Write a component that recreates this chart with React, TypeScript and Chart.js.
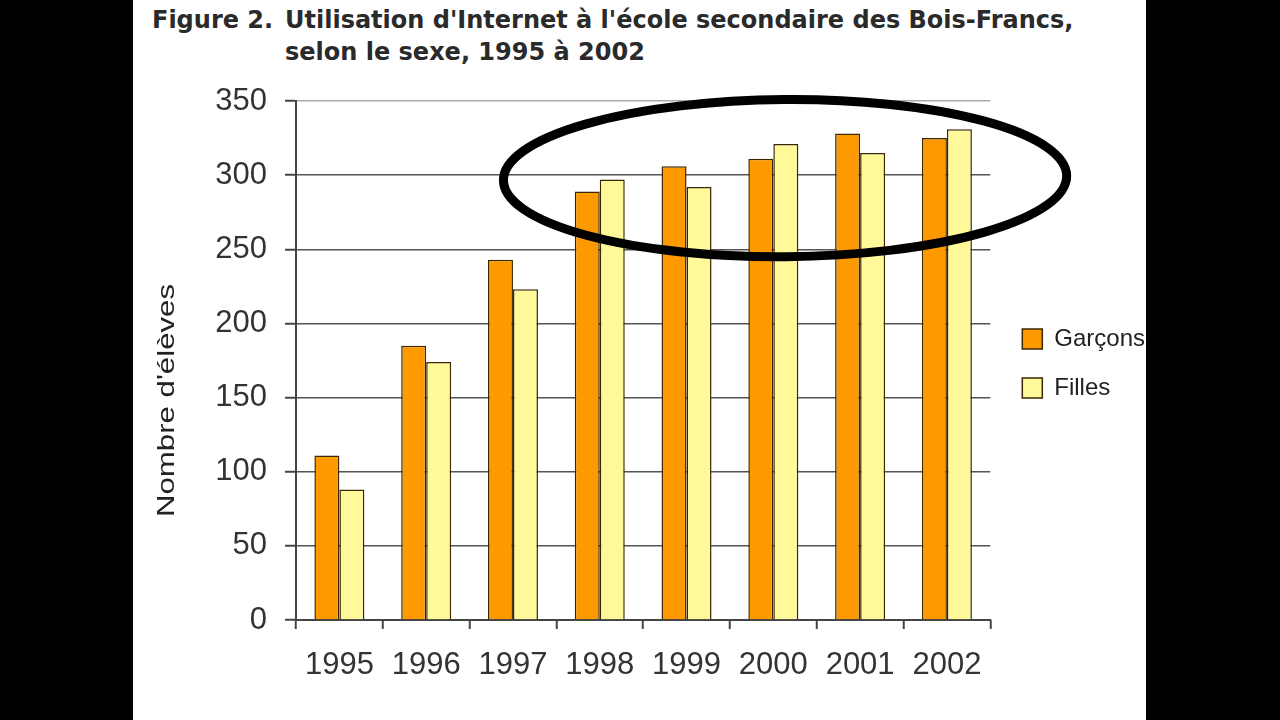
import React, { useEffect, useRef } from "react";
import { Chart, registerables } from "chart.js";

Chart.register(...registerables);

const years = ["1995", "1996", "1997", "1998", "1999", "2000", "2001", "2002"];
const garcons = [111, 185, 243, 289, 306, 311, 328, 325];
const filles = [88, 174, 223, 297, 292, 321, 315, 331];
const seriesLabels = ["Garçons", "Filles"];
const yMin = 0;
const yMax = 350;
const yStep = 50;
const titlePrefix = "Figure 2.";
const titleLine1 = "Utilisation d'Internet à l'école secondaire des Bois-Francs,";
const titleLine2 = "selon le sexe, 1995 à 2002";
const yAxisTitle = "Nombre d'élèves";

const FONT = "'Liberation Sans', Arial, sans-serif";

const yTitlePlugin = {
  id: "yTitle",
  afterDraw(chart: any) {
    const ys = chart.scales.y;
    const ctx = chart.ctx;
    const cy = (ys.top + ys.bottom) / 2 + 40;
    ctx.save();
    ctx.font = `24px ${FONT}`;
    const w = ctx.measureText(yAxisTitle).width;
    ctx.translate(174, cy);
    ctx.rotate(-Math.PI / 2);
    ctx.scale(233 / w, 1);
    ctx.fillStyle = "#222";
    ctx.textAlign = "center";
    ctx.textBaseline = "alphabetic";
    ctx.fillText(yAxisTitle, 0, 0);
    ctx.restore();
  },
};

const legendShiftPlugin = {
  id: "legendShift",
  afterLayout(chart: any) {
    const lg = chart.legend;
    if (lg) {
      lg.left += 7;
      lg.right += 7;
      lg.top -= 47;
      lg.bottom -= 47;
    }
  },
};

const ellipsePlugin = {
  id: "ellipseAnnotation",
  afterDraw(chart: any) {
    const xs = chart.scales.x;
    const ys = chart.scales.y;
    const step = xs.getPixelForValue(1) - xs.getPixelForValue(0);
    const left = xs.getPixelForValue(3) - 1.11 * step;
    const right = xs.getPixelForValue(7) + 1.38 * step;
    const top = ys.getPixelForValue(351);
    const bottom = ys.getPixelForValue(245);
    const ctx = chart.ctx;
    ctx.save();
    ctx.beginPath();
    ctx.ellipse((left + right) / 2, (top + bottom) / 2, (right - left) / 2, (bottom - top) / 2, -0.008, 0, Math.PI * 2);
    ctx.lineWidth = 9;
    ctx.strokeStyle = "#000";
    ctx.stroke();
    ctx.restore();
  },
};

export default function App() {
  const ref = useRef<HTMLCanvasElement | null>(null);

  useEffect(() => {
    document.body.style.margin = "0";
    const canvas = ref.current!;
    const chart = new Chart(canvas, {
      type: "bar",
      data: {
        labels: years,
        datasets: [
          {
            label: seriesLabels[0],
            data: garcons,
            backgroundColor: "#FF9900",
            borderColor: "#3a2800",
            borderWidth: 1.5,
          },
          {
            label: seriesLabels[1],
            data: filles,
            backgroundColor: "#FFF99A",
            borderColor: "#3a2800",
            borderWidth: 1.5,
          },
        ],
      },
      options: {
        responsive: false,
        animation: false,
        layout: { padding: { left: 150, top: 101, right: 132, bottom: 0 } },
        datasets: {
          bar: { barPercentage: 1, categoryPercentage: 0.576 },
        },
        plugins: {
          tooltip: { enabled: false },
          title: { display: false },
          legend: {
            position: "right",
            labels: {
              boxWidth: 20,
              boxHeight: 20,
              padding: 25,
              color: "#222",
              font: { family: FONT, size: 24 },
            },
          },
        },
        scales: {
          x: {
            afterFit(scale: any) {
              scale.height = 100;
            },
            grid: {
              offset: true,
              drawOnChartArea: true,
              drawTicks: true,
              tickLength: 9,
              tickColor: "#444",
              tickWidth: 2,
              color: (c: any) => (c.index === years.length ? "#aaa" : "rgba(0,0,0,0)"),
              lineWidth: 1.5,
            },
            border: { display: true, color: "#444", width: 2 },
            ticks: {
              color: "#333",
              padding: 18,
              maxRotation: 0,
              autoSkip: false,
              font: { family: FONT, size: 31 },
            },
          },
          y: {
            min: yMin,
            max: yMax,
            afterFit(scale: any) {
              scale.width = 146;
            },
            ticks: {
              stepSize: yStep,
              color: "#333",
              padding: 18,
              font: { family: FONT, size: 31 },
            },
            grid: {
              color: (c: any) => (c.tick && c.tick.value === yMax ? "#aaa" : "#555"),
              lineWidth: 1.5,
              tickLength: 11,
              tickColor: "#444",
              tickWidth: 2,
            },
            border: { display: true, color: "#444", width: 2 },
            title: { display: false },
          },
        },
      },
      plugins: [legendShiftPlugin, yTitlePlugin, ellipsePlugin],
    } as any);
    return () => chart.destroy();
  }, []);

  return (
    <div style={{ position: "fixed", left: 0, top: 0, width: 1280, height: 720, background: "#000", overflow: "hidden" }}>
      <div style={{ position: "absolute", left: 133, top: 0, width: 1013, height: 720, background: "#fff" }} />
      <div
        style={{
          position: "absolute",
          left: 152,
          top: 4,
          display: "flex",
          fontFamily: "'DejaVu Sans', Verdana, sans-serif",
          fontWeight: "bold",
          fontSize: 24,
          lineHeight: "32px",
          color: "#2a2a2a",
          whiteSpace: "nowrap",
        }}
      >
        <div style={{ width: 133 }}>{titlePrefix}</div>
        <div>
          <div>{titleLine1}</div>
          <div>{titleLine2}</div>
        </div>
      </div>
      <canvas ref={ref} width={1280} height={720} style={{ position: "absolute", left: 0, top: 0 }} />
    </div>
  );
}
